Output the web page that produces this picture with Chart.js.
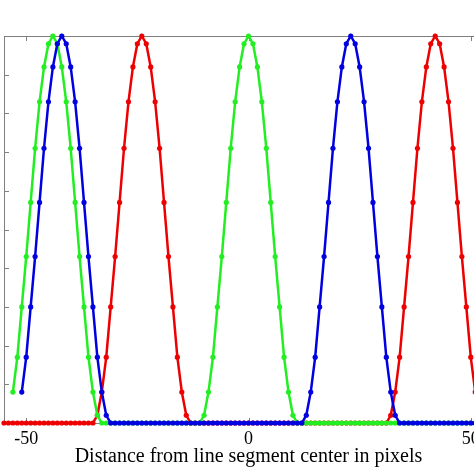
<!DOCTYPE html>
<html>
<head>
<meta charset="utf-8">
<script src="https://cdn.jsdelivr.net/npm/chart.js@4/dist/chart.umd.min.js"></script>
<style>
  html, body { margin: 0; padding: 0; background: #fff; overflow: hidden; }
  #wrap { width: 474px; height: 474px; overflow: hidden; }
</style>
</head>
<body>
<div id="wrap"><canvas id="chart" width="500" height="474"></canvas></div>
<script>
// sample positions (pixels from segment center)
const xValues = [
  -55, -54, -53, -52, -51, -50, -49, -48, -47, -46,
  -45, -44, -43, -42, -41, -40, -39, -38, -37, -36,
  -35, -34, -33, -32, -31, -30, -29, -28, -27, -26,
  -25, -24, -23, -22, -21, -20, -19, -18, -17, -16,
  -15, -14, -13, -12, -11, -10, -9, -8, -7, -6,
  -5, -4, -3, -2, -1, 0, 1, 2, 3, 4,
  5, 6, 7, 8, 9, 10, 11, 12, 13, 14,
  15, 16, 17, 18, 19, 20, 21, 22, 23, 24,
  25, 26, 27, 28, 29, 30, 31, 32, 33, 34,
  35, 36, 37, 38, 39, 40, 41, 42, 43, 44,
  45, 46, 47, 48, 49, 50, 51, 52, 53, 54,
  55
];

// red: peaks at -24 and 42
const redValues = [
  0, 0, 0, 0, 0, 0, 0, 0, 0, 0,
  0, 0, 0, 0, 0, 0, 0, 0, 0, 0,
  0, 0.02, 0.08, 0.17, 0.30, 0.43, 0.57, 0.71, 0.83, 0.92,
  0.98, 1, 0.98, 0.92, 0.83, 0.71, 0.57, 0.43, 0.30, 0.17,
  0.08, 0.02, 0, 0, 0, 0, 0, 0, 0, 0,
  0, 0, 0, 0, 0, 0, 0, 0, 0, 0,
  0, 0, 0, 0, 0, 0, 0, 0, 0, 0,
  0, 0, 0, 0, 0, 0, 0, 0, 0, 0,
  0, 0, 0, 0, 0, 0, 0, 0.02, 0.08, 0.17,
  0.30, 0.43, 0.57, 0.71, 0.83, 0.92, 0.98, 1, 0.98, 0.92,
  0.83, 0.71, 0.57, 0.43, 0.30, 0.17, 0.08, 0.02, 0, 0,
  0
];

// green: peaks at -44 and 0
const greenValues = [
  null, null, 0.08, 0.17, 0.30, 0.43, 0.57, 0.71, 0.83, 0.92,
  0.98, 1, 0.98, 0.92, 0.83, 0.71, 0.57, 0.43, 0.30, 0.17,
  0.08, 0.02, 0, 0, 0, 0, 0, 0, 0, 0,
  0, 0, 0, 0, 0, 0, 0, 0, 0, 0,
  0, 0, 0, 0, 0, 0.02, 0.08, 0.17, 0.30, 0.43,
  0.57, 0.71, 0.83, 0.92, 0.98, 1, 0.98, 0.92, 0.83, 0.71,
  0.57, 0.43, 0.30, 0.17, 0.08, 0.02, 0, 0, 0, 0,
  0, 0, 0, 0, 0, 0, 0, 0, 0, 0,
  0, 0, 0, 0, 0, 0, 0, 0, 0, 0,
  0, 0, 0, 0, 0, 0, 0, 0, 0, 0,
  0, 0, 0, 0, 0, 0, 0, 0, 0, 0,
  0
];

// blue: peaks at -42 and 24
const blueValues = [
  null, null, null, null, 0.08, 0.17, 0.30, 0.43, 0.57, 0.71,
  0.83, 0.92, 0.98, 1, 0.98, 0.92, 0.83, 0.71, 0.57, 0.43,
  0.30, 0.17, 0.08, 0.02, 0, 0, 0, 0, 0, 0,
  0, 0, 0, 0, 0, 0, 0, 0, 0, 0,
  0, 0, 0, 0, 0, 0, 0, 0, 0, 0,
  0, 0, 0, 0, 0, 0, 0, 0, 0, 0,
  0, 0, 0, 0, 0, 0, 0, 0, 0.02, 0.08,
  0.17, 0.30, 0.43, 0.57, 0.71, 0.83, 0.92, 0.98, 1, 0.98,
  0.92, 0.83, 0.71, 0.57, 0.43, 0.30, 0.17, 0.08, 0.02, 0,
  0, 0, 0, 0, 0, 0, 0, 0, 0, 0,
  0, 0, 0, 0, 0, 0, 0, 0, 0, 0,
  0
];

const xTickValues = [-50, 0, 50];
const xTitle = 'Distance from line segment center in pixels';

const axisGray = '#7f7f7f';

// frame on top plus inward tick marks, like the original plot
const frameTicks = {
  id: 'frameTicks',
  beforeDatasetsDraw(chart) {
    const { ctx, chartArea: a, scales: { x, y } } = chart;
    ctx.save();
    ctx.strokeStyle = axisGray;
    ctx.lineWidth = 1;
    ctx.beginPath();
    ctx.moveTo(a.left, a.top + 0.5);
    ctx.lineTo(a.right, a.top + 0.5);
    x.ticks.forEach(t => {
      const px = Math.round(x.getPixelForValue(t.value)) + 0.5;
      ctx.moveTo(px, a.top);
      ctx.lineTo(px, a.top + 5);
      ctx.moveTo(px, a.bottom);
      ctx.lineTo(px, a.bottom - 5);
    });
    y.ticks.forEach(t => {
      const py = Math.round(y.getPixelForValue(t.value)) + 0.5;
      ctx.moveTo(a.left, py);
      ctx.lineTo(a.left + 5, py);
    });
    ctx.stroke();
    ctx.restore();
  }
};

function series(values, color) {
  return {
    data: values,
    borderColor: color,
    backgroundColor: color,
    borderWidth: 2.5,
    pointRadius: 2.6,
    pointBorderWidth: 0,
    pointBackgroundColor: color,
    tension: 0,
    clip: false
  };
}

new Chart(document.getElementById('chart'), {
  type: 'line',
  data: {
    labels: xValues,
    // first dataset is painted last, so blue ends up on top
    datasets: [
      series(blueValues, '#0000e0'),
      series(greenValues, '#22ee22'),
      series(redValues, '#ee0000')
    ]
  },
  options: {
    responsive: false,
    animation: false,
    devicePixelRatio: 1,
    layout: { padding: { left: 3, right: 7, top: 36, bottom: 7 } },
    plugins: { legend: { display: false }, tooltip: { enabled: false } },
    scales: {
      x: {
        type: 'linear',
        min: -55,
        max: 55,
        afterBuildTicks: s => { s.ticks = xTickValues.map(v => ({ value: v })); },
        grid: { drawOnChartArea: false, drawTicks: false },
        border: { color: axisGray, width: 1 },
        ticks: {
          padding: 7,
          color: '#000',
          font: { family: 'Liberation Serif', size: 18, lineHeight: 1 }
        },
        title: {
          display: true,
          text: xTitle,
          color: '#000',
          padding: { top: -8, bottom: 0 },
          font: { family: 'Liberation Serif', size: 20, lineHeight: 1 }
        }
      },
      y: {
        min: 0,
        max: 1,
        ticks: { stepSize: 0.1, display: false },
        grid: { drawOnChartArea: false, drawTicks: false },
        border: { color: axisGray, width: 1 }
      }
    }
  },
  plugins: [frameTicks]
});
</script>
</body>
</html>
